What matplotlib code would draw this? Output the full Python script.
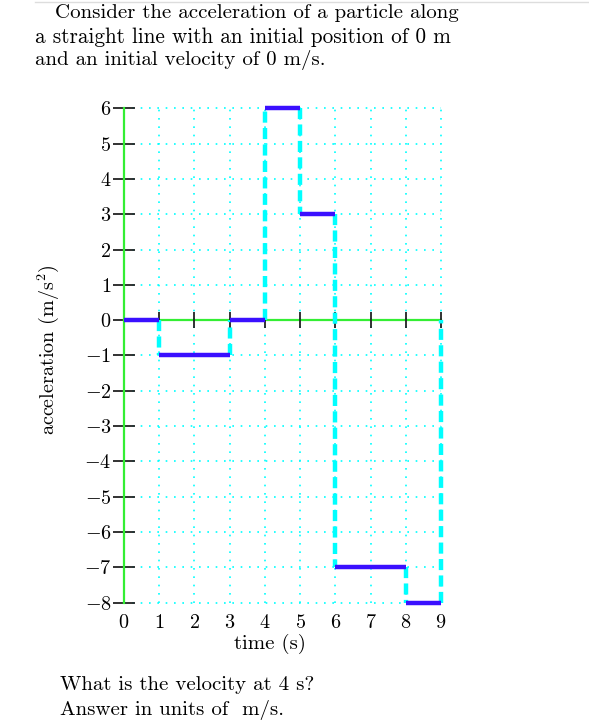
import matplotlib
matplotlib.use("Agg")
import matplotlib.pyplot as plt

plt.rcParams['mathtext.fontset'] = 'cm'
plt.rcParams['font.family'] = ['cmr10', 'DejaVu Serif']
plt.rcParams['axes.unicode_minus'] = False

# piecewise-constant acceleration
seg_start = [0, 1, 3, 4, 5, 6, 8]
seg_end = [1, 3, 4, 5, 6, 8, 9]
accel = [0, -1, 0, 6, 3, -7, -8]
x_ticks = [0, 1, 2, 3, 4, 5, 6, 7, 8, 9]
y_ticks = [-8, -7, -6, -5, -4, -3, -2, -1, 0, 1, 2, 3, 4, 5, 6]

W, H = 589, 727
fig = plt.figure(figsize=(W / 100, H / 100), dpi=100)
x0, x1 = 124, 441
y0, y1 = 108.3, 602.5
ax = fig.add_axes([x0 / W, 1 - y1 / H, (x1 - x0) / W, (y1 - y0) / H])
ax.set_xlim(0, 9)
ax.set_ylim(-8, 6)
for s in ax.spines.values():
    s.set_visible(False)

# grid
for xv in x_ticks[1:]:
    ax.plot([xv, xv], [-8, 6], color='#00ffff', lw=1.2, ls=(0, (1, 4)), zorder=1, clip_on=False)
for yv in y_ticks:
    ax.plot([0, 9], [yv, yv], color='#00ffff', lw=1.2, ls=(0, (1, 4)), zorder=1, clip_on=False)

# axes lines
ax.plot([0, 0], [-8, 6], color='#33ee33', lw=1.6, zorder=2, clip_on=False)
ax.plot([0, 9], [0, 0], color='#33ee33', lw=1.6, zorder=2, clip_on=False)

# x tick marks on the zero line
ax.plot(x_ticks[1:], [0] * len(x_ticks[1:]), ls='none', marker='|', ms=12, mew=1.3,
        color='#222222', zorder=3, clip_on=False)

# vertical jumps (dashed cyan)
prev = 0
for s, v in zip(seg_start, accel):
    if v != prev:
        ax.plot([s, s], [prev, v], color='#00ffff', lw=3.2, ls=(0, (2.5, 1.2)),
                zorder=4, clip_on=False)
    prev = v
if prev != 0:
    ax.plot([seg_end[-1]] * 2, [prev, 0], color='#00ffff', lw=3.2, ls=(0, (2.5, 1.2)),
            zorder=4, clip_on=False)

# horizontal segments
for s, e, v in zip(seg_start, seg_end, accel):
    ax.plot([s, e], [v, v], color='#3a10ff', lw=3.2, solid_capstyle='butt',
            zorder=5, clip_on=False)

ax.set_yticks(y_ticks)
ax.set_yticklabels(['$%d$' % v for v in y_ticks], fontsize=14.5)
ax.tick_params(axis='y', direction='inout', length=16, width=1.3, color='#222222', pad=1)
ax.set_xticks(x_ticks)
ax.set_xticklabels(['$%d$' % v for v in x_ticks], fontsize=14.5)
ax.tick_params(axis='x', length=0, pad=8)

fig.text(270 / W, 1 - 644 / H, 'time (s)', fontsize=15, ha='center', va='center')
fig.text(48 / W, 1 - 350 / H, r'acceleration (m/s$^2$)', fontsize=14.5, ha='center',
         va='center', rotation=90)

# text
fig.text(55 / W, 1 - 13 / H, 'Consider the acceleration of a particle along', fontsize=15,
         ha='left', va='center')
fig.text(35 / W, 1 - 37 / H, 'a straight line with an initial position of 0 m',
         fontsize=15.3, ha='left', va='center')
fig.text(35 / W, 1 - 60 / H, 'and an initial velocity of 0 m/s.', fontsize=15,
         ha='left', va='center')
fig.text(60 / W, 1 - 685 / H, 'What is the velocity at 4 s?', fontsize=15,
         ha='left', va='center')
fig.text(60 / W, 1 - 710 / H, 'Answer in units of  m/s.', fontsize=15,
         ha='left', va='center')

fig.add_artist(plt.Line2D([35 / W, 1], [1 - 2 / H, 1 - 2 / H], color='#dddddd', lw=1))

fig.savefig('out.png', dpi=100)
